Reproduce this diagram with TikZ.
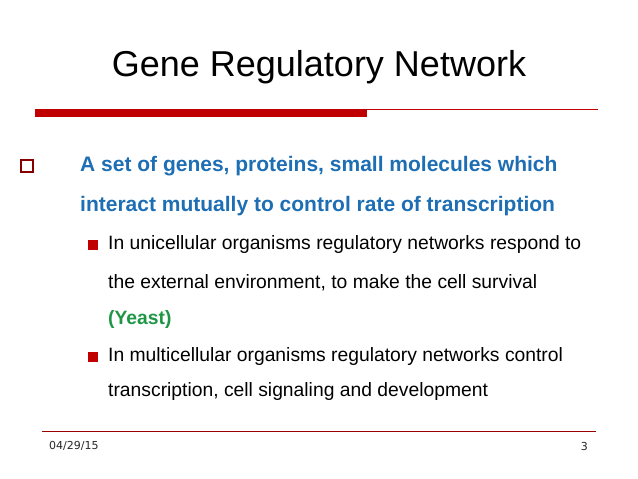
\documentclass[tikz,border=0pt]{standalone}
\usepackage{fontspec}
\setmainfont{Liberation Sans}
\newfontfamily\footfont{DejaVu Sans}
\definecolor{tblue}{RGB}{30,110,180}
\definecolor{tred}{RGB}{192,0,0}
\definecolor{tgreen}{RGB}{30,150,70}
\tikzset{x=1pt,y=-1pt,
 main/.style={anchor=west,inner sep=0,font=\fontsize{21}{24}\selectfont\bfseries,text=tblue},
 sub/.style={anchor=west,inner sep=0,font=\fontsize{19.3}{22}\selectfont},
 foot/.style={inner sep=0,font=\footfont\fontsize{11}{12}\selectfont,text=black!85}}
\begin{document}
\begin{tikzpicture}
\useasboundingbox (0,0) rectangle (638,479);
\node[inner sep=0,font=\fontsize{36}{40}\selectfont] (title) at (319,67) {Gene Regulatory Network};
\fill[tred] (35,109) rectangle (367,117);
\draw[tred,line width=0.8] (367,109.5) -- (598,109.5);
\draw[tred!70!black,line width=1.2] (21,160) rectangle (33,172);
\node[main] (m1) at (80,166) {A set of genes, proteins, small molecules which};
\node[main] (m2) at (80,206) {interact mutually to control rate of transcription};
\fill[tred] (88,240) rectangle (98,250);
\node[sub] (s1) at (108,245) {In unicellular organisms regulatory networks respond to};
\node[sub] (s2) at (108,283) {the external environment, to make the cell survival};
\node[sub,font=\fontsize{19.3}{22}\selectfont\bfseries,text=tgreen] (s3) at (108,320) {(Yeast)};
\fill[tred] (88,352) rectangle (98,362);
\node[sub] (s4) at (108,357) {In multicellular organisms regulatory networks control};
\node[sub] (s5) at (108,392) {transcription, cell signaling and development};
\draw[tred!80!black,line width=0.8] (42,431) -- (596,431);
\node[foot,anchor=west] (d) at (49,446) {04/29/15};
\node[foot,anchor=east] (p) at (588,446) {3};
\end{tikzpicture}
\end{document}
